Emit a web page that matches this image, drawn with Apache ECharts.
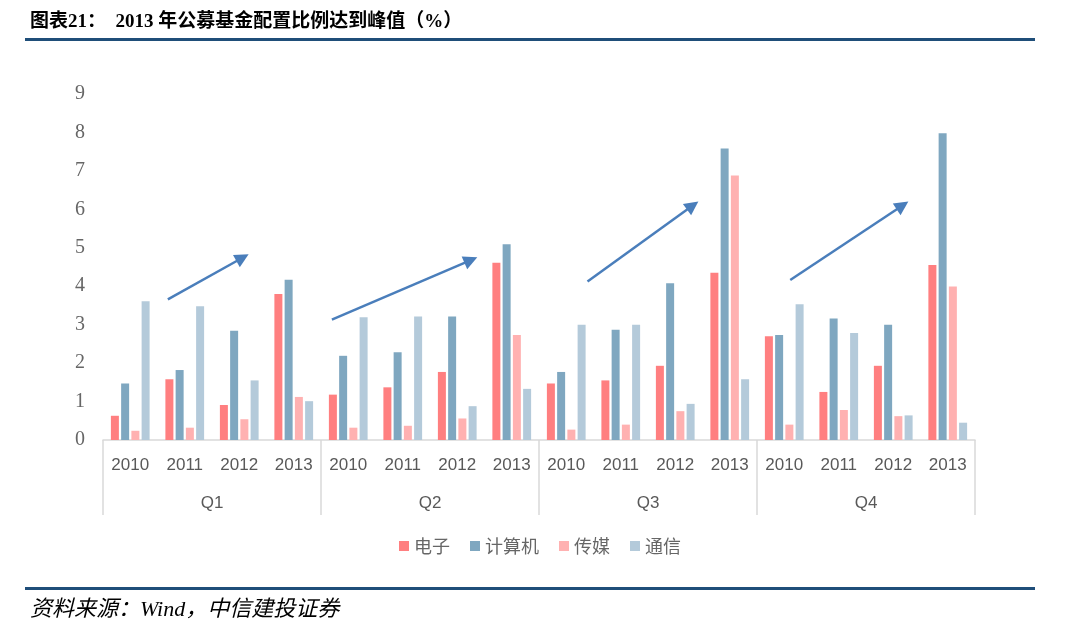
<!DOCTYPE html>
<html>
<head>
    <meta charset="utf-8">
    <title>2013年公募基金配置比例</title>
    <script src="https://cdn.jsdelivr.net/npm/echarts@6/dist/echarts.min.js"></script>
    <style>
        body { margin: 0; background: #fff; }
    </style>
</head>
<body>
    <div id="main" style="width: 1080px;height: 635px;"></div>
    <script type="text/javascript">
        // 横轴：季度 x 年份
        var years = ['2010', '2011', '2012', '2013'];
        var quarters = ['Q1', 'Q2', 'Q3', 'Q4'];
        var yearLabels = [].concat(years, years, years, years);
        var yTicks = [0, 1, 2, 3, 4, 5, 6, 7, 8, 9];

        // 各行业配置比例 (%)
        var dianzi = [0.63, 1.58, 0.91, 3.80, 1.18, 1.37, 1.77, 4.61, 1.47, 1.55, 1.93, 4.35, 2.70, 1.25, 1.93, 4.55];
        var jisuanji = [1.47, 1.82, 2.84, 4.17, 2.19, 2.28, 3.21, 5.09, 1.77, 2.87, 4.08, 7.58, 2.73, 3.16, 3.00, 7.98];
        var chuanmei = [0.24, 0.32, 0.54, 1.12, 0.32, 0.37, 0.56, 2.73, 0.27, 0.40, 0.75, 6.88, 0.40, 0.78, 0.62, 3.99];
        var tongxin = [3.61, 3.48, 1.55, 1.01, 3.19, 3.21, 0.88, 1.33, 3.00, 3.00, 0.94, 1.58, 3.53, 2.78, 0.64, 0.45];

        // 趋势箭头 [起点x, 起点y, 终点x, 终点y]，x 以类目为单位
        var arrows = [
            [1.19, 3.66, 2.56, 4.74],
            [4.20, 3.13, 6.75, 4.68],
            [8.89, 4.12, 10.82, 6.10],
            [12.61, 4.16, 14.67, 6.10]
        ];

        var names = ['电子', '计算机', '传媒', '通信'];
        var colors = ['#FF7F80', '#7FA7C0', '#FFB1B1', '#B4CADA'];
        var values = [dianzi, jisuanji, chuanmei, tongxin];

        var myChart = echarts.init(document.getElementById('main'));

        var series = names.map(function (n, i) {
            return {
                name: n,
                type: 'bar',
                xAxisIndex: 0,
                barWidth: 8,
                barGap: '28%',
                itemStyle: { color: colors[i] },
                data: values[i]
            };
        });

        series.push({
            name: 'arrows',
            type: 'line',
            xAxisIndex: 2,
            data: [],
            markLine: {
                silent: true,
                symbol: ['none', 'triangle'],
                symbolSize: [14, 14],
                label: { show: false },
                lineStyle: { color: '#4A7EBB', width: 2.5, type: 'solid' },
                data: arrows.map(function (a) {
                    return [{ coord: [a[0], a[1]] }, { coord: [a[2], a[3]] }];
                })
            }
        });

        var option = {
            animation: false,
            title: [
                {
                    text: '图表21：  2013 年公募基金配置比例达到峰值（%）',
                    left: 25,
                    top: 8,
                    textStyle: {
                        fontSize: 19,
                        fontWeight: 'bold',
                        color: '#000',
                        fontFamily: 'Liberation Serif, Noto Sans CJK SC'
                    }
                },
                {
                    text: '资料来源：Wind，中信建投证券',
                    left: 25,
                    top: 594,
                    textStyle: {
                        fontSize: 22,
                        fontWeight: 'normal',
                        fontStyle: 'italic',
                        color: '#000',
                        fontFamily: 'Liberation Serif, Noto Sans CJK SC'
                    }
                }
            ],
            graphic: [
                { type: 'rect', left: 25, top: 38, shape: { width: 1010, height: 3 }, style: { fill: '#1F4E79' } },
                { type: 'rect', left: 25, top: 587, shape: { width: 1010, height: 3 }, style: { fill: '#1F4E79' } }
            ],
            legend: {
                data: names,
                left: 'center',
                top: 532,
                icon: 'rect',
                itemWidth: 10,
                itemHeight: 10,
                itemGap: 20,
                textStyle: { fontSize: 18, color: '#666666', fontFamily: 'Noto Sans CJK SC' }
            },
            grid: { left: 103, right: 105, top: 94, bottom: 195 },
            xAxis: [
                {
                    type: 'category',
                    data: yearLabels,
                    position: 'bottom',
                    axisLine: { lineStyle: { color: '#D9D9D9', width: 1.5 } },
                    axisTick: { show: false },
                    axisLabel: { interval: 0, margin: 17, fontSize: 17, color: '#595959', fontFamily: 'Liberation Sans' }
                },
                {
                    type: 'category',
                    data: quarters,
                    position: 'bottom',
                    axisLine: { show: false },
                    axisTick: { show: true, length: 75, lineStyle: { color: '#D9D9D9', width: 1.5 } },
                    axisLabel: { interval: 0, margin: 55, fontSize: 17, color: '#595959', fontFamily: 'Liberation Sans' }
                },
                { type: 'value', min: 0, max: 16, show: false }
            ],
            yAxis: {
                type: 'value',
                min: yTicks[0],
                max: yTicks[yTicks.length - 1],
                interval: 1,
                axisLine: { show: false },
                axisTick: { show: false },
                splitLine: { show: false },
                axisLabel: { margin: 18, fontSize: 20, color: '#666666', fontFamily: 'Liberation Serif' }
            },
            series: series
        };

        myChart.setOption(option);
        window.onresize = myChart.resize;
    </script>
</body>
</html>
